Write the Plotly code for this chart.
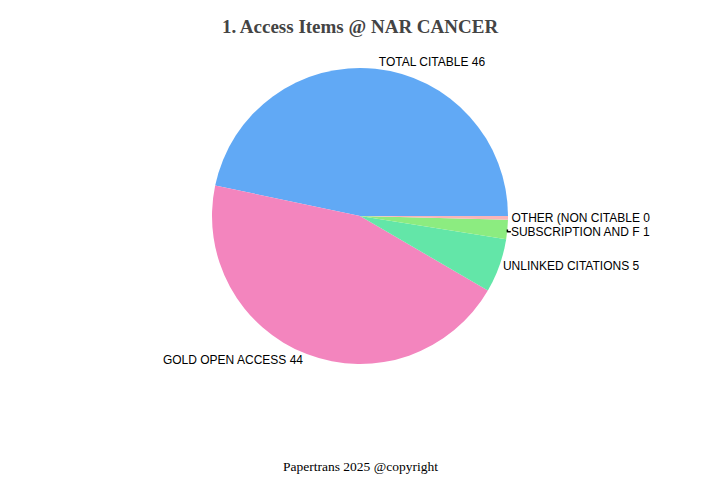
import plotly.graph_objects as go

# access categories (labels are cut short in the original)
labels = ["TOTAL CITABLE", "GOLD OPEN ACCESS", "UNLINKED CITATIONS",
          "SUBSCRIPTION AND F", "OTHER (NON CITABLE"]
# numbers printed next to each label
shown = [46, 44, 5, 1, 0]
# slice sizes (percent of the pie)
shares = [46.7, 44.9, 5.9, 2.1, 0.4]
colors = ["#61a9f5", "#f385be", "#63e6a8", "#8cec80", "#fab4b8"]

# first slice should begin at 3 o'clock and run counterclockwise
start = 90 - 360 * shares[0] / sum(shares)

fig = go.Figure(go.Pie(
    labels=labels,
    values=shares,
    text=[f"{l} {n}" for l, n in zip(labels, shown)],
    textinfo="text",
    textposition="outside",
    sort=False,
    direction="counterclockwise",
    rotation=start,
    marker=dict(colors=colors),
    textfont=dict(family="Liberation Sans, Arial", size=12, color="black"),
    hoverinfo="label+value",
))

fig.update_layout(
    width=720, height=480,
    title=dict(text="<b>1. Access Items @ NAR CANCER</b>", x=0.4889, y=0.9625,
               xanchor="center", yanchor="middle",
               font=dict(family="Liberation Serif, Times New Roman", size=19, color="#444")),
    margin=dict(l=0, r=16, t=60, b=124, autoexpand=False),
    showlegend=False,
    paper_bgcolor="white",
    annotations=[dict(text="Papertrans 2025 @copyright", x=0.5, y=-0.345,
                      xref="paper", yref="paper", showarrow=False,
                      xanchor="center", yanchor="middle",
                      font=dict(family="Liberation Serif, Times New Roman", size=13.5, color="black"))],
)

fig.write_html("out.html")
